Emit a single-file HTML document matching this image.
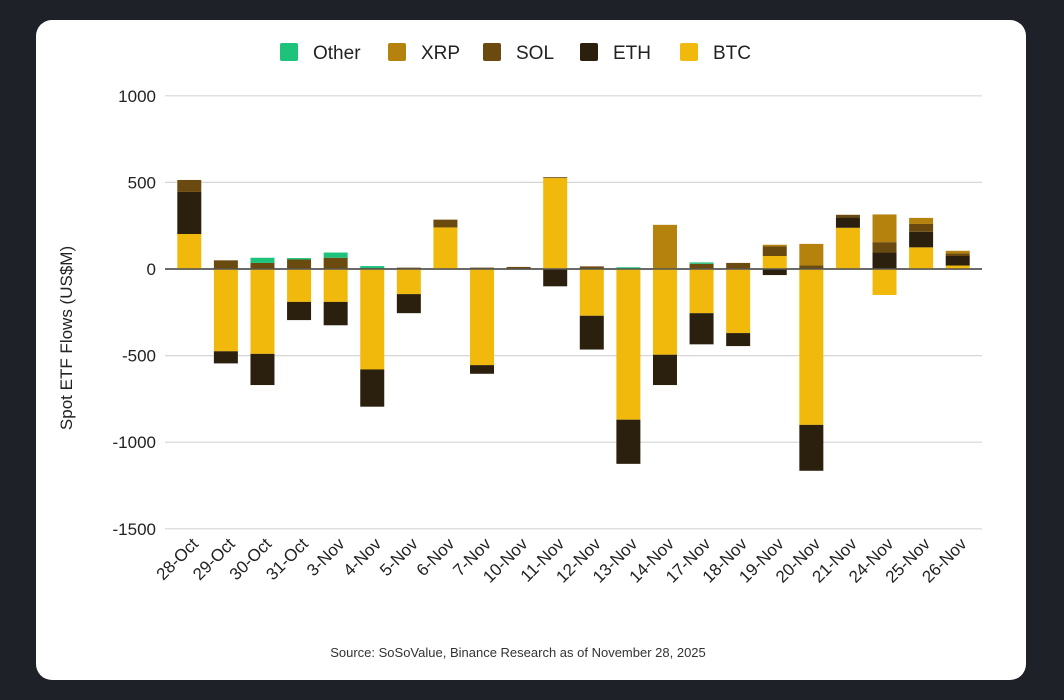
<!DOCTYPE html>
<html><head><meta charset="utf-8"><style>
html,body{margin:0;padding:0;background:#1e2128;}
#card{position:absolute;left:36px;top:20px;width:990px;height:660px;background:#fff;border-radius:16px;}
svg{position:absolute;left:0;top:0;}
text{font-family:"Liberation Sans",sans-serif;}
</style></head><body>
<div id="card"></div>
<svg id="chart" width="1064" height="700"></svg>
<script>
const categories=["28-Oct","29-Oct","30-Oct","31-Oct","3-Nov","4-Nov","5-Nov","6-Nov","7-Nov","10-Nov","11-Nov","12-Nov","13-Nov","14-Nov","17-Nov","18-Nov","19-Nov","20-Nov","21-Nov","24-Nov","25-Nov","26-Nov"];
const btc=[202,-475,-490,-190,-190,-580,-145,240,-555,2,525,-270,-870,-495,-255,-370,75,-900,238,-150,125,20];
const eth=[243,-70,-180,-105,-135,-215,-110,0,-50,0,-100,-195,-255,-175,-180,-75,-35,-265,60,95,90,55];
const sol=[69,50,35,55,65,5,8,45,8,10,5,15,0,0,30,35,55,20,15,60,45,15];
const xrp=[0,0,0,0,0,0,0,0,0,0,0,0,0,255,0,0,10,125,0,160,35,15];
const other=[0,0,30,8,30,12,0,0,0,0,0,0,10,0,8,0,0,0,0,0,0,0];
const yTicks=[1000,500,0,-500,-1000,-1500];
const seriesNames=["BTC","ETH","SOL","XRP","Other"];
const colors={BTC:"#f0b90b",ETH:"#2b200d",SOL:"#6b4a0f",XRP:"#b5820e",Other:"#1dc27b"};
const svg=document.getElementById('chart');
const NS="http://www.w3.org/2000/svg";
function mk(t,a){const e=document.createElementNS(NS,t);for(const k in a)e.setAttribute(k,a[k]);svg.appendChild(e);return e;}
const gx0=165,gx1=982,n=categories.length;
const bx0=171,bx1=976;
const step=(bx1-bx0)/n;
function xc(i){return bx0+step*(i+0.5);}
function y(v){return 269-v*0.1732;}
const bw=24;
yTicks.forEach(t=>{
  const g=mk('line',{x1:gx0,x2:gx1,y1:y(t),y2:y(t),stroke:t===0?'#555':'#d6d6d6','stroke-width':t===0?1.6:1.2});
  
  
  const tx=mk('text',{x:156,y:y(t)+6,'text-anchor':'end','font-size':17,fill:'#222'});
  tx.textContent=t;
  
  
});
const data={BTC:btc,ETH:eth,SOL:sol,XRP:xrp,Other:other};
categories.forEach((c,i)=>{
  let pos=0,neg=0;
  seriesNames.forEach(s=>{
    const v=data[s][i];if(!v)return;
    let a,b;
    if(v>0){a=pos;b=pos+v;pos=b;}else{a=neg;b=neg+v;neg=b;}
    const r=mk('rect',{x:xc(i)-bw/2,y:Math.min(y(a),y(b)),width:bw,height:Math.abs(y(a)-y(b)),fill:colors[s]});
    
    
  });
  const tx=mk('text',{x:xc(i)+10,y:545,'text-anchor':'end','font-size':17,fill:'#222',transform:`rotate(-45 ${xc(i)+10} 545)`});
  tx.textContent=c;
  
  
});
mk('line',{x1:gx0,x2:gx1,y1:y(0),y2:y(0),stroke:'#555','stroke-width':1.6});
const yt=mk('text',{x:72,y:338,'text-anchor':'middle','font-size':17,fill:'#222',transform:'rotate(-90 72 338)'});
yt.textContent="Spot ETF Flows (US$M)";


const legend=[["Other",280],["XRP",388],["SOL",483],["ETH",580],["BTC",680]];
legend.forEach(([s,lx])=>{
  const r=mk('rect',{x:lx,y:43,width:18,height:18,rx:2,fill:colors[s]});
  
  
  const t=mk('text',{x:lx+33,y:59,'font-size':19,fill:'#222'});
  t.textContent=s;
  
  
});
const src=mk('text',{x:518,y:657,'text-anchor':'middle','font-size':13,fill:'#333'});
src.textContent="Source: SoSoValue, Binance Research as of November 28, 2025";


</script>
</body></html>
